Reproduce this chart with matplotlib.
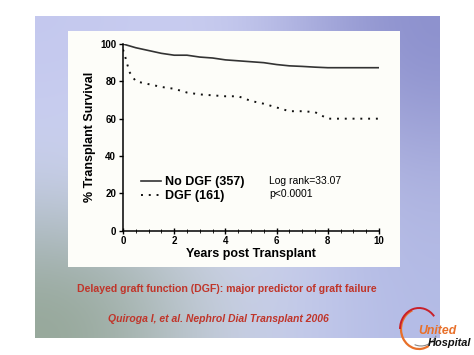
import numpy as np
import matplotlib
matplotlib.use("Agg")
import matplotlib.pyplot as plt
from matplotlib.patches import Rectangle, Arc
from matplotlib.colors import to_rgb

plt.rcParams['font.family'] = ['Liberation Sans', 'DejaVu Sans']

# Kaplan-Meier curves
no_dgf_years = [0, 0.5, 1, 1.5, 2, 2.5, 3, 3.5, 4, 4.5, 5, 5.5, 6, 6.5, 7, 7.5, 8, 9, 10]
no_dgf_surv = [100, 98, 96.5, 95, 94, 94, 93, 92.5, 91.5, 91, 90.5, 90, 89, 88.3, 88, 87.6, 87.3, 87.3, 87.3]

dgf_years = [0, 0.05, 0.25, 0.5, 1, 1.5, 2, 2.5, 3, 3.5, 4, 4.5, 5, 5.5, 6, 6.5, 7, 7.5, 8, 9, 10]
dgf_surv = [97, 95, 85, 80, 78.5, 77, 76, 74, 73, 72.5, 72, 72, 69.5, 68, 66, 64, 64, 63.5, 60, 60, 60]

legend_labels = ['No DGF (357)', 'DGF (161)']
stats_lines = ['Log rank=33.07', 'p<0.0001']
caption = 'Delayed graft function (DGF): major predictor of graft failure'
citation = 'Quiroga I, et al. Nephrol Dial Transplant 2006'

W, H = 474, 355
fig = plt.figure(figsize=(W / 100, H / 100), dpi=100)
bg = fig.add_axes([0, 0, 1, 1])
bg.set_xlim(0, W)
bg.set_ylim(H, 0)
bg.axis('off')

# slide background gradient
grid = [['#c4c8ee', '#cdd1f2', '#8a8ecc'],
        ['#ccd3f0', '#e0e3f6', '#aeb3e0'],
        ['#93a595', '#d3d9ee', '#b3bbe6']]
img = np.array([[to_rgb(c) for c in row] for row in grid])
bg.imshow(img, extent=(35, 440, 338, 16), interpolation='bicubic', aspect='auto')
bg.add_patch(Rectangle((68, 31), 332, 236, facecolor='#fdfdf9', edgecolor='none'))

bg.text(77, 289, caption, color='#c0352a', fontsize=7.6, fontweight='bold', va='center')
bg.text(108, 319, citation, color='#c0352a', fontsize=7.5, fontweight='bold',
        style='italic', va='center')

# logo
bg.add_patch(Arc((419, 329), 36, 40, angle=0, theta1=60, theta2=250, color='#e8702a', lw=1.6))
bg.add_patch(Arc((419, 329), 38, 42, angle=0, theta1=180, theta2=320, color='#c8202a', lw=1.4))
bg.add_patch(Arc((421, 327), 34, 38, angle=0, theta1=30, theta2=110, color='#888888', lw=0.8))
bg.text(418, 331, 'United', color='#e8702a', fontsize=8.8, fontweight='bold', style='italic', va='center')
bg.text(428, 343, 'Hospital', color='#111111', fontsize=7.9, fontweight='bold', style='italic', va='center')

ax = fig.add_axes([123 / W, 1 - 230.7 / H, 256 / W, 186.7 / H])
ax.patch.set_alpha(0)
ax.plot(no_dgf_years, no_dgf_surv, color='#333333', lw=1.2, label=legend_labels[0])
ax.plot(dgf_years, dgf_surv, color='#111111', lw=1.4, linestyle=(0, (1, 3)),
        dash_capstyle='butt', label=legend_labels[1])
ax.set_xlim(0, 10)
ax.set_ylim(0, 100)
ax.set_xticks(range(0, 11, 2))
ax.set_xticks(np.arange(0, 10.01, 0.5), minor=True)
ax.set_yticks(range(0, 101, 20))
for s in ['top', 'right']:
    ax.spines[s].set_visible(False)
for s in ['left', 'bottom']:
    ax.spines[s].set_linewidth(1.1)
ax.tick_params(axis='both', labelsize=7, width=1, length=3, pad=2)
ax.tick_params(axis='x', which='both', direction='inout', length=4)
ax.tick_params(axis='x', which='minor', length=3)
for lbl in ax.get_xticklabels() + ax.get_yticklabels():
    lbl.set_fontweight('bold')
ax.set_xlabel('Years post Transplant', fontsize=9, fontweight='bold', labelpad=1)
ax.set_ylabel('% Transplant Survival', fontsize=9, fontweight='bold', labelpad=3)

ax.legend(loc='center left', bbox_to_anchor=(0.07, 0.223), frameon=False,
          prop={'weight': 'bold', 'size': 9}, handlelength=1.6, handletextpad=0.3,
          labelspacing=0.15, borderpad=0, borderaxespad=0)
ax.text(5.7, 26.6, stats_lines[0], fontsize=7.5, va='center')
ax.text(5.7, 19.8, stats_lines[1], fontsize=7.5, va='center')

fig.savefig('out.png', dpi=100)
